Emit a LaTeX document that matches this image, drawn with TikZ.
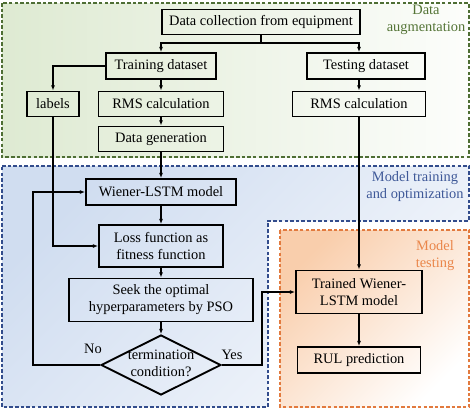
\documentclass[tikz,border=0pt]{standalone}
\usepackage{fontspec}
\setmainfont{Liberation Serif}
\usepackage{tikz}
\usetikzlibrary{shapes.geometric,arrows.meta,positioning,calc}
\definecolor{grnline}{RGB}{78,110,52}
\definecolor{grntext}{RGB}{84,116,54}
\definecolor{grnbg}{RGB}{222,234,210}
\definecolor{blueline}{RGB}{50,76,140}
\definecolor{bluetext}{RGB}{62,88,152}
\definecolor{bluebg}{RGB}{208,221,240}
\definecolor{bluebgend}{RGB}{244,247,252}
\definecolor{orgline}{RGB}{226,122,62}
\definecolor{orgtext}{RGB}{234,134,74}
\definecolor{orgbg}{RGB}{249,206,172}

\begin{document}
\begin{tikzpicture}[x=0.03cm, y=-0.03cm,
    font=\fontsize{12.3}{14.5}\selectfont,
    box/.style={draw, line width=1.6pt, inner sep=1pt, align=center},
    decision/.style={draw, line width=1.6pt, shape=diamond, inner sep=0pt,
        minimum width=3.6cm, minimum height=1.8cm},
    region/.style={line width=1.2pt, dash pattern=on 3pt off 1.8pt},
    link/.style={line width=1.1pt},
    arr/.style={link, -{Latex[length=4.5pt,width=3.5pt]}}]
    \useasboundingbox (0,0) rectangle (474,409);
    % shaded areas
    \shade[left color=grnbg, right color=white!92!grnbg] (2,3) rectangle (469,157);
    \draw[region, grnline] (2,3) rectangle (469,157);
    \shade[left color=bluebg, right color=bluebgend, shading angle=45]
        (2,166) -- (469,166) -- (469,221) -- (268,221) -- (268,407) -- (2,407) -- cycle;
    \draw[region, blueline]
        (2,166) -- (469,166) -- (469,221) -- (268,221) -- (268,407) -- (2,407) -- cycle;
    \shade[left color=orgbg, right color=white, shading angle=45] (280,230) rectangle (469,407);
    \draw[region, orgline] (280,230) rectangle (469,407);
    \node[text=grntext, align=center] (augtitle) at (426,20) {Data\\augmentation};
    \node[text=bluetext, align=center] (traintitle) at (415,187) {Model training\\and optimization};
    \node[text=orgtext, align=center] (testtitle) at (435,256) {Model\\testing};
    % nodes
    \node[box, minimum width=5.94cm, minimum height=0.75cm] (collect) at (261,22) {Data collection from equipment};
    \node[box, minimum width=3.3cm, minimum height=0.78cm] (train) at (161,66) {Training dataset};
    \node[box, minimum width=3.54cm, minimum height=0.78cm] (test) at (366,66) {Testing dataset};
    \node[box, minimum width=1.56cm, minimum height=0.75cm] (labels) at (53,104) {labels};
    \node[box, minimum width=3.75cm, minimum height=0.75cm] (rmsl) at (161,104) {RMS calculation};
    \node[box, minimum width=3.99cm, minimum height=0.75cm] (rmsr) at (359,104) {RMS calculation};
    \node[box, minimum width=3.75cm, minimum height=0.75cm] (gen) at (161,139) {Data generation};
    \node[box, minimum width=4.5cm, minimum height=0.78cm] (wiener) at (161,192) {Wiener-LSTM model};
    \node[box, minimum width=3.72cm, minimum height=1.26cm] (loss) at (161,246) {Loss function as\\fitness function};
    \node[box, minimum width=5.52cm, minimum height=1.29cm] (pso) at (161,300) {Seek the optimal\\hyperparameters by PSO};
    \node[decision] (term) at (161,365)
        {\makebox[0pt]{\begin{tabular}{@{}c@{}}termination\\condition?\end{tabular}}};
    \node[box, minimum width=3.78cm, minimum height=1.29cm] (trained) at (359,292) {Trained Wiener-\\LSTM model};
    \node[box, minimum width=3.69cm, minimum height=0.78cm] (rul) at (359,360) {RUL prediction};
    \node (no) at (93,349) {No};
    \node (yes) at (232,355) {Yes};
    % connectors
    \coordinate (split) at (261,43);
    \draw[link] (collect.south) -- (split);
    \draw[arr] (split) -| (train.north);
    \draw[arr] (split) -| (rmsr.north |- test.north);
    \draw[arr] (train.west) -| (labels.north);
    \draw[arr] (train) -- (rmsl);
    \draw[arr] (rmsr.north |- test.south) -- (rmsr.north);
    \draw[arr] (rmsl) -- (gen);
    \draw[arr] (gen) -- (wiener);
    \draw[arr] (labels.south) |- (loss.west);
    \draw[arr] (wiener) -- (loss);
    \draw[arr] (loss) -- (pso);
    \draw[arr] (pso) -- (term);
    \draw[arr] (term.west) -- ++(-67,0) |- (wiener.west);
    \draw[arr] (term.east) -- ++(40,0) |- (trained.west);
    \draw[arr] (rmsr) -- (trained);
    \draw[arr] (trained) -- (rul);
\end{tikzpicture}
\end{document}
